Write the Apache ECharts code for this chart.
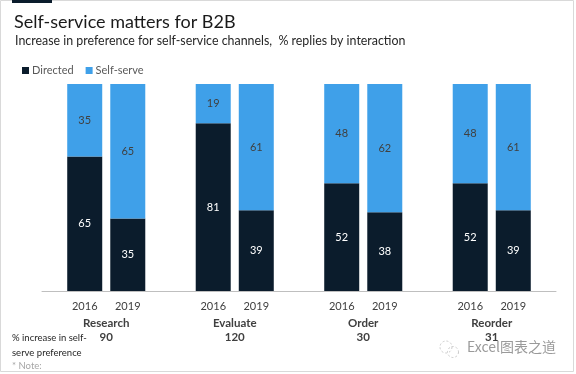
<!DOCTYPE html>
<html><head><meta charset="utf-8">
<script src="https://cdn.jsdelivr.net/npm/echarts@6/dist/echarts.min.js"></script>
<style>html,body{margin:0;padding:0;background:#fff}#c{width:576px;height:374px}</style>
</head><body><div id="c"></div>
<script>
const categories = ['Research', 'Evaluate', 'Order', 'Reorder'];
const years = ['2016', '2019'];
const increase = [90, 120, 30, 31];
const directed2016 = [65, 81, 52, 52];
const selfServe2016 = [35, 19, 48, 48];
const directed2019 = [35, 39, 38, 39];
const selfServe2019 = [65, 61, 62, 61];

const DARK = '#0b1c2c', BLUE = '#3fa0e9';
const FONT = 'Lato, "Noto Sans", sans-serif';
const chart = echarts.init(document.getElementById('c'), null, {renderer: 'canvas'});

function mk(name, data, stack, color, labelColor) {
  return {
    name: name, type: 'bar', stack: stack, data: data, barWidth: 35, barGap: '23%',
    itemStyle: {color: color},
    label: {show: true, position: 'inside', color: labelColor, fontSize: 11, fontFamily: FONT},
    emphasis: {disabled: true}
  };
}

chart.setOption({
  animation: false,
  title: [
    {text: 'Self-service matters for B2B', left: 9, top: 8,
     textStyle: {fontFamily: FONT, fontSize: 18, fontWeight: 'normal', color: '#1a1a1a'}},
    {text: 'Increase in preference for self-service channels,  % replies by interaction', left: 10, top: 30,
     textStyle: {fontFamily: FONT, fontSize: 12.4, fontWeight: 'normal', color: '#262626'}}
  ],
  legend: {
    left: 17, top: 60, itemWidth: 7, itemHeight: 7, itemGap: 12, icon: 'rect',
    data: ['Directed', 'Self-serve'],
    textStyle: {fontFamily: FONT, fontSize: 11, color: '#595959', padding: [0, 0, 0, -2]}
  },
  grid: {left: 42, right: 20, top: 84, bottom: 83, containLabel: false},
  xAxis: {
    type: 'category', data: categories,
    axisLine: {lineStyle: {color: '#bfbfbf', width: 1}},
    axisTick: {show: false},
    axisLabel: {
      interval: 0, margin: 5,
      formatter: function (v, i) {
        return '{y|' + years[0] + '}{y|' + years[1] + '}\n{c|' + v + '}\n{n|' + increase[i] + '}';
      },
      rich: {
        y: {width: 43, align: 'center', fontFamily: FONT, fontSize: 11, color: '#404040', height: 20, verticalAlign: 'top'},
        c: {fontFamily: FONT, fontSize: 11.5, fontWeight: 'bold', color: '#404040', height: 14},
        n: {fontFamily: FONT, fontSize: 11.5, fontWeight: 'bold', color: '#404040', height: 14}
      }
    }
  },
  yAxis: {type: 'value', min: 0, max: 100, show: false, splitLine: {show: false}},
  series: [
    mk('Directed', directed2016, 'a', DARK, '#ffffff'),
    mk('Self-serve', selfServe2016, 'a', BLUE, '#404040'),
    mk('Directed', directed2019, 'b', DARK, '#ffffff'),
    mk('Self-serve', selfServe2019, 'b', BLUE, '#404040')
  ],
  graphic: [
    {type: 'rect', shape: {x: 0.5, y: 0.5, width: 573, height: 371}, style: {fill: 'none', stroke: '#d9d9d9', lineWidth: 1}, silent: true},
    {type: 'rect', shape: {x: 12, y: 0, width: 40, height: 3}, style: {fill: DARK}, silent: true},
    {type: 'text', left: 12, top: 330, style: {text: '% increase in self-\nserve preference', fontFamily: FONT, fontSize: 9.5, lineHeight: 15, fill: '#262626'}},
    {type: 'text', left: 12, top: 361, style: {text: '* Note:', fontFamily: FONT, fontSize: 9.5, fill: '#a6a6a6'}},
    {type: 'circle', shape: {cx: 446, cy: 347, r: 6}, style: {fill: 'none', stroke: '#c8c8c8', lineWidth: 1, lineDash: [2, 2]}},
    {type: 'circle', shape: {cx: 453, cy: 352, r: 5.5}, style: {fill: 'none', stroke: '#c8c8c8', lineWidth: 1, lineDash: [2, 2]}},
    {type: 'text', left: 467, top: 340, style: {text: 'Excel图表之道', fontFamily: '"Noto Sans CJK SC", sans-serif', fontSize: 14, fill: '#9a9a9a'}}
  ]
});
</script></body></html>
